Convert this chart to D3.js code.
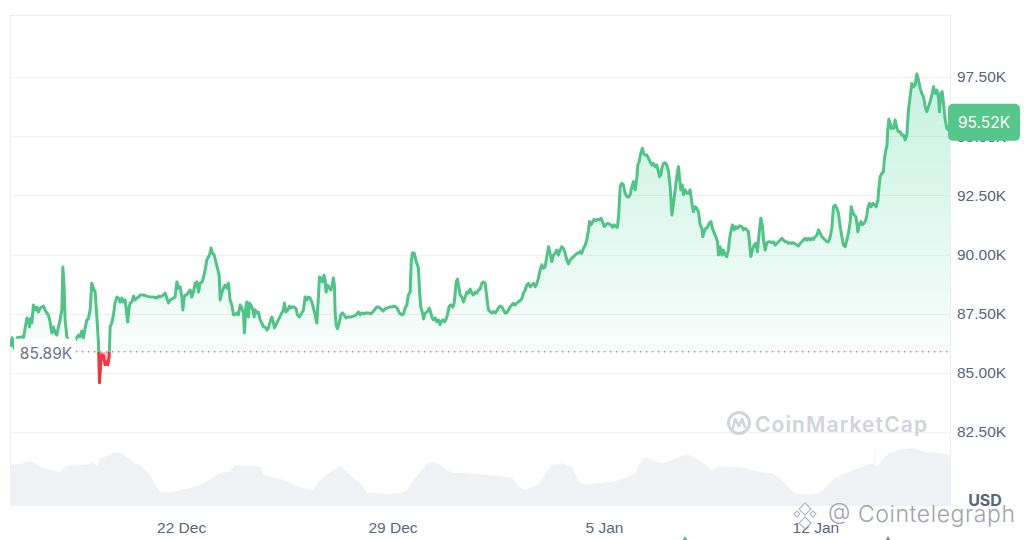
<!DOCTYPE html>
<html lang="en">
<head>
<meta charset="UTF-8">
<title>BTC / USD</title>
<script src="https://d3js.org/d3.v7.min.js"></script>
<style>
  body { margin: 0; background: #fff; }
  svg { display: block; font-family: Inter, "Noto Sans", sans-serif; }
  .axis text { fill: #58667e; font-size: 15.5px; }
</style>
</head>
<body>
<div id="chart"></div>
<script>
var width = 1024, height = 540;
var plot = {left: 10, right: 950, top: 15, bottom: 506};

// hours counted from 16 Dec 2024 00:00 UTC
var startDate = Date.UTC(2024, 11, 16);
var domainHours = [8, 755];
var xTickDates = ["2024-12-22", "2024-12-29", "2025-01-05", "2025-01-12"];
var yTicks = [82.5, 85, 87.5, 90, 92.5, 95, 97.5];
var basePrice = 85.89;
var lastPrice = 95.52;

// [hour, price in K USD]
var prices = [
  [8.5,86.10],[9.7,86.48],[11.3,86.05],[13.7,86.48],[17.4,86.52],[18.7,86.48],[21.4,87.32],[22.6,87.24],[23.4,86.94],[24.6,87.32],
  [25.4,87.11],[26.6,87.87],[28.0,87.66],[29.3,87.78],[30.6,87.57],[32.0,87.74],[33.3,87.78],[34.6,87.82],[35.9,87.66],[37.3,87.53],
  [38.5,87.45],[39.9,87.15],[41.2,86.69],[42.5,86.94],[43.9,86.69],[45.2,86.60],[46.5,86.94],[47.8,87.24],[49.2,87.66],[50.0,89.47],
  [51.0,88.63],[51.8,87.24],[53.2,86.52],[54.4,86.39],[59.0,86.31],[61.1,86.48],[62.4,86.60],[63.7,86.52],[65.1,86.77],[66.4,86.48],
  [67.7,86.90],[69.1,87.24],[70.3,87.28],[71.7,87.66],[73.0,88.79],[74.3,88.58],[75.7,88.41],[77.0,87.36],[78.3,86.26],[79.1,84.58],
  [80.2,85.42],[81.0,85.76],[82.3,85.72],[83.6,85.34],[85.0,85.46],[85.8,85.34],[86.8,85.67],[87.6,86.94],[88.9,87.11],[90.2,87.45],
  [91.6,87.99],[92.9,88.20],[94.2,88.16],[95.5,87.99],[96.9,88.16],[98.1,87.99],[99.5,88.08],[100.8,87.45],[101.6,87.15],[102.7,87.78],
  [103.5,87.95],[104.8,87.99],[106.1,88.24],[107.4,88.08],[108.8,88.16],[110.1,88.20],[111.4,88.29],[114.0,88.29],[116.7,88.24],[119.4,88.20],
  [122.0,88.20],[124.7,88.16],[126.0,88.24],[127.3,88.20],[130.0,88.29],[131.3,88.37],[132.6,88.16],[133.9,87.95],[135.3,88.08],[137.9,88.16],
  [139.2,88.20],[140.6,88.84],[141.9,88.58],[143.2,88.63],[144.6,88.20],[145.4,87.66],[146.4,88.20],[147.2,88.29],[148.5,88.29],[149.8,88.41],
  [151.2,88.50],[152.5,88.20],[153.8,88.41],[155.1,88.79],[156.5,88.84],[157.8,88.41],[159.1,88.79],[160.5,88.84],[161.7,89.01],[163.1,89.35],
  [164.4,89.77],[165.7,89.89],[167.0,90.06],[167.8,90.27],[168.9,90.06],[170.2,89.98],[171.6,89.68],[172.8,89.43],[174.2,89.13],[175.0,88.08],
  [176.3,88.37],[177.6,88.58],[179.0,88.71],[180.3,88.58],[181.6,88.79],[182.9,88.08],[184.3,87.87],[185.6,87.45],[186.9,87.45],[188.3,87.53],
  [189.5,87.45],[190.9,87.87],
  [192.2,87.74],[193.5,87.53],[194.3,86.69],[195.4,87.78],[196.2,87.99],[197.5,87.36],[198.3,87.95],[199.4,87.87],[201.0,87.66],[202.0,87.36],
  [202.8,87.66],[204.2,87.53],[205.4,87.57],[206.8,87.24],[208.1,87.11],[209.4,86.94],[210.8,86.94],[212.1,86.81],[213.4,86.90],[214.7,87.15],
  [216.1,87.36],[217.4,87.11],[218.1,86.90],[219.5,87.03],[220.5,87.15],[222.1,87.32],[224.0,87.53],[225.3,87.66],[226.1,87.95],[227.2,87.57],
  [228.8,87.66],[230.1,87.82],[231.2,87.74],[232.5,87.78],[233.8,87.78],[235.4,87.70],[236.4,87.45],[238.0,87.36],[239.9,87.53],[241.2,87.66],
  [242.5,88.20],[243.9,88.08],[245.2,88.20],[246.5,88.16],[247.9,87.99],[249.1,87.74],[250.5,87.45],[251.8,87.11],[253.1,88.20],[253.9,89.05],
  [255.0,89.01],[256.3,88.84],[257.6,89.13],[258.4,88.92],[259.2,88.41],[260.3,88.71],[261.9,88.58],[263.0,88.50],[264.0,88.71],[265.0,89.01],
  [265.8,88.71],[266.4,87.53],[267.2,87.03],[268.2,86.86],[269.6,87.11],[270.9,87.45],[272.2,87.53],[273.5,87.45],[275.1,87.32],[276.9,87.36],
  [278.9,87.36],[280.9,87.40],[283.1,87.45],[284.9,87.57],[286.3,87.45],[287.6,87.53],[289.4,87.49],[291.0,87.53],[292.8,87.53],[294.8,87.49],
  [296.3,87.57],[298.2,87.70],[299.5,87.78],[300.8,87.78],[302.1,87.74],[304.3,87.61],[306.1,87.70],[307.5,87.74],[309.5,87.78],[311.4,87.78],
  [313.3,87.82],[314.9,87.78],[315.9,87.70],[317.5,87.53],[319.4,87.45],[320.7,87.49],[322.0,87.74],[323.4,87.87],[324.6,88.29],[326.0,88.41],
  [326.8,89.64],[327.8,90.06],[329.2,90.06],[330.5,89.77],[331.8,89.56],[332.6,89.43],[333.4,88.50],[334.5,87.78],[335.8,87.53],[336.6,87.28],
  [337.9,87.53],[339.3,87.57],[340.5,87.66],[341.3,87.74],[342.4,87.53],[343.5,87.32],[344.5,87.24],[345.9,87.32],[347.2,87.15],[348.5,87.24],
  [349.8,87.03],[350.6,87.15],[352.0,87.24],[353.3,87.15],[354.6,87.28],[355.6,87.45],[357.0,87.82],[358.3,87.87],[359.9,87.78],[361.0,87.95],
  [362.6,88.84],[363.6,88.96],[364.7,88.63],[365.7,88.29],[367.1,88.20],[368.4,87.99],[369.7,88.20],[371.0,88.41],[372.3,88.37],[373.7,88.54],
  [375.0,88.37],[376.3,88.29],[377.6,88.41],[379.0,88.37],[380.3,88.50],[381.6,88.54],[383.0,88.79],[384.2,88.84],[385.6,88.79],[386.9,88.20],
  [388.2,87.66],
  [389.6,87.59],[390.9,87.53],[392.2,87.59],[393.5,87.53],[394.9,87.62],[396.2,87.74],[397.5,87.82],[398.9,87.79],[400.1,87.66],[401.5,87.53],
  [402.8,87.54],[404.1,87.66],[405.5,87.79],[406.8,87.87],[408.1,87.94],[409.4,87.87],[410.8,87.94],[412.1,88.01],[413.4,88.05],[414.8,88.15],
  [416.0,88.36],[417.4,88.50],[418.7,88.71],[420.0,88.78],[421.4,88.64],[422.7,88.71],[424.0,88.78],[425.3,88.64],[426.7,88.78],[427.9,88.99],
  [429.3,89.35],[430.6,89.56],[431.9,89.42],[433.3,89.48],[434.6,89.91],[435.9,90.33],[437.2,90.05],[438.6,89.70],[439.9,89.98],[441.2,90.05],
  [442.6,90.19],[443.8,89.98],[445.2,90.19],[446.5,90.33],[447.8,90.26],[449.2,90.05],[450.5,89.77],[451.8,89.60],[453.1,89.77],[454.5,89.84],
  [455.8,89.91],[457.1,89.98],[458.5,90.05],[459.7,90.05],[461.1,90.12],[462.4,90.05],[463.7,90.26],[465.1,90.40],[466.4,90.61],[467.7,91.04],
  [468.5,91.39],[469.6,91.25],[471.2,91.39],[472.2,91.49],[473.8,91.43],[475.2,91.49],[476.4,91.46],[477.8,91.53],[478.8,91.39],[480.2,91.18],
  [481.5,91.25],[482.8,91.32],[484.1,91.29],[485.5,91.25],[486.8,91.15],[488.1,91.25],[489.5,91.18],[490.7,91.15],[491.8,91.74],[492.9,92.87],
  [494.2,93.01],[495.5,92.94],[496.8,92.59],[498.2,92.45],[499.5,92.42],[500.8,92.52],[502.2,92.87],[503.5,93.08],[504.8,92.73],[506.1,93.22],
  [506.9,93.78],[508.0,93.92],[509.3,94.28],[510.6,94.49],[511.4,94.28],[512.7,94.20],[514.1,94.20],[515.4,94.06],[516.7,93.92],[518.1,93.78],
  [519.3,93.85],[520.7,93.71],[522.0,93.78],[523.3,93.50],[524.1,93.29],[525.2,93.36],[526.0,93.64],[527.3,93.85],[528.6,93.88],[530.0,93.78],
  [531.3,93.50],[532.6,92.87],[534.0,91.67],[535.2,92.16],[536.6,92.73],[537.9,93.29],[539.2,93.71],[540.0,93.29],[541.1,92.73],[542.2,92.94],
  [543.2,92.52],[544.5,92.73],[545.9,92.59],[547.2,92.59],[548.5,92.73],[549.9,92.16],[551.1,91.81],[552.5,92.02],[553.8,91.95],[555.1,91.81],
  [556.5,91.25],[557.8,91.11],[558.6,90.75],[559.6,90.96],[561.0,91.11],[562.3,91.15],[563.6,91.32],[565.0,91.39],[566.2,91.11],[567.6,90.90],
  [568.9,90.75],[570.2,90.54],[571.0,89.98],[572.3,90.33],[573.7,89.98],[574.9,90.19],[576.3,89.98],[577.6,89.91],[578.9,90.19],[579.7,90.61],
  [580.8,90.96],[582.1,91.25],[583.5,91.04],[584.8,91.18],[586.1,91.11],[587.7,91.21],
  [589.6,91.18],[590.9,91.04],[592.2,91.11],[593.6,91.04],[594.8,90.96],[595.6,90.54],[596.7,89.91],[598.0,90.19],[599.4,90.40],[600.7,90.47],
  [602.0,90.12],[603.3,90.90],[604.7,91.53],[606.0,91.18],[606.8,90.61],[608.1,90.19],[609.5,90.50],[610.7,90.54],[612.1,90.54],[613.4,90.50],
  [614.7,90.54],[616.0,90.40],[617.4,90.47],[618.7,90.54],[620.0,90.61],[621.4,90.68],[622.7,90.61],[624.0,90.54],[625.3,90.54],[626.6,90.47],
  [628.0,90.50],[629.3,90.47],[630.6,90.50],[632.0,90.44],[633.3,90.40],[634.6,90.36],[635.9,90.47],[637.3,90.54],[638.5,90.61],[639.9,90.68],
  [641.2,90.61],[642.5,90.68],[643.9,90.61],[645.2,90.68],[646.5,90.64],[647.8,90.75],[649.2,90.82],[650.5,91.04],[651.8,90.90],[653.2,90.75],
  [654.5,90.68],[655.8,90.61],[657.1,90.54],[658.4,90.54],[659.8,90.75],[661.1,91.11],[662.4,92.02],[663.7,92.09],[665.1,91.95],[666.4,91.74],
  [667.7,91.18],[669.1,90.75],[670.3,90.40],[671.7,90.33],[673.0,90.61],[674.3,90.90],[675.7,91.39],[676.5,92.02],[677.5,91.81],[678.8,91.67],
  [680.2,91.60],[681.0,91.32],[681.8,90.96],[682.8,91.25],[684.2,91.39],[685.4,91.25],[686.8,91.32],[688.1,91.46],[688.9,91.67],[689.7,91.95],
  [691.0,92.16],[692.4,92.02],[693.7,92.16],[695.0,92.09],[696.3,92.02],[697.7,92.30],[698.5,92.80],[699.5,93.29],[700.8,93.43],[702.1,93.50],
  [702.9,94.06],[704.0,94.42],[704.8,94.55],[705.6,95.26],[706.4,95.71],[707.5,95.54],[708.3,95.33],[709.3,95.40],[710.1,95.33],[711.4,95.68],
  [712.8,95.33],[714.0,95.19],[715.4,95.19],[716.7,95.05],[718.0,95.05],[719.4,94.84],[720.7,95.05],[722.0,96.11],[723.3,96.67],[724.7,97.23],
  [726.0,97.09],[727.3,97.16],[728.6,97.63],[730.0,97.37],[731.3,97.02],[732.6,96.81],[733.9,96.67],[735.3,96.25],[736.6,96.03],[737.9,96.25],
  [739.2,96.46],[740.6,96.74],[741.9,97.09],[743.2,96.81],[744.6,96.95],[745.9,96.60],[746.6,96.03],[747.7,96.81],[748.8,96.88],[749.8,96.39],
  [751.2,95.68],[752.5,95.33],[753.8,95.26],[755.0,95.52]
];

// [hour, 24h volume in B USD]
var volumes = [
  [8.1,62],[16.1,63],[24.0,68],[29.3,62],[34.6,57],[42.5,54],[47.8,50],[50.5,57],[55.8,62],[63.7,62],
  [71.7,63],[74.3,66],[77.0,60],[79.6,72],[85.0,75],[91.6,81],[95.5,80],[100.8,74],[106.1,64],[111.4,62],
  [116.7,51],[120.7,42],[123.3,32],[127.3,21],[132.6,20],[137.9,21],[143.2,24],[151.2,27],[159.1,32],[167.0,40],
  [175.0,50],[182.9,51],[186.9,62],[193.5,60],[201.5,60],[206.8,59],[209.4,47],[217.4,43],[225.3,39],[233.3,32],
  [241.2,27],[249.1,24],[253.1,36],[259.8,47],[265.0,54],[270.4,60],[275.7,51],[280.9,42],[286.3,34],[288.9,29],
  [291.6,20],[299.5,19],[307.5,18],[318.0,19],[323.4,24],[328.6,39],[333.9,51],[339.3,64],[344.5,66],[349.8,62],
  [355.1,54],[360.4,49],[365.7,50],[376.3,48],[386.9,47],[397.5,45],[407.0,42],[412.4,29],[417.6,24],[423.0,29],
  [428.3,32],[433.5,49],[438.8,62],[446.8,64],[454.7,59],[460.1,36],[465.3,32],[476.0,34],[486.5,36],[497.1,42],
  [505.0,49],[507.7,62],[513.0,74],[518.3,68],[526.3,64],[534.2,69],[542.2,75],[547.5,77],[555.4,69],[566.0,54],
  [571.3,59],[581.9,59],[592.5,57],[603.1,51],[613.7,49],[621.6,39],[627.0,27],[632.2,19],[640.1,17],[650.8,19],
  [656.0,27],[661.4,39],[671.9,49],[682.6,57],[693.1,64],[694.8,62],[695.3,95],[695.8,62],[697.1,59],[701.1,69],
  [706.4,79],[714.4,84],[724.9,87],[735.5,81],[746.1,80],[754.1,77],[755.0,77]
];

function toDate(h) { return new Date(startDate + h * 3600e3); }

var x = d3.scaleUtc()
    .domain(domainHours.map(toDate))
    .range([plot.left, plot.right]);
var y = d3.scaleLinear()
    .domain([82.5, 97.5])
    .range([432, 77]);
var yVol = d3.scaleLinear()
    .domain([0, 90])
    .range([plot.bottom, 446]);

var green = "#50c386", red = "#ea3943", grey = "#58667e";

var svg = d3.select("#chart")
    .append("svg")
    .attr("width", width)
    .attr("height", height);

var defs = svg.append("defs");
var grad = defs.append("linearGradient")
    .attr("id", "upFill")
    .attr("gradientUnits", "userSpaceOnUse")
    .attr("x1", 0).attr("x2", 0)
    .attr("y1", y(97.6)).attr("y2", y(basePrice));
grad.append("stop").attr("offset", 0).attr("stop-color", "#16c784").attr("stop-opacity", 0.24);
grad.append("stop").attr("offset", 1).attr("stop-color", "#16c784").attr("stop-opacity", 0.03);

defs.append("clipPath").attr("id", "above")
    .append("rect")
    .attr("x", plot.left).attr("y", plot.top)
    .attr("width", plot.right - plot.left)
    .attr("height", y(basePrice) - plot.top);
defs.append("clipPath").attr("id", "below")
    .append("rect")
    .attr("x", plot.left).attr("y", y(basePrice))
    .attr("width", plot.right - plot.left)
    .attr("height", plot.bottom - y(basePrice));

// frame
var frame = svg.append("g").attr("stroke", "#eceff2").attr("fill", "none");
frame.append("line").attr("x1", plot.left).attr("x2", plot.right).attr("y1", plot.top + 0.5).attr("y2", plot.top + 0.5);
frame.append("line").attr("x1", plot.left + 0.5).attr("x2", plot.left + 0.5).attr("y1", plot.top).attr("y2", plot.bottom);
frame.append("line").attr("x1", plot.right + 0.5).attr("x2", plot.right + 0.5).attr("y1", plot.top).attr("y2", plot.bottom);

// grid
svg.append("g")
    .selectAll("line")
    .data(yTicks)
    .enter()
    .append("line")
    .attr("x1", plot.left)
    .attr("x2", plot.right)
    .attr("y1", function (d) { return Math.round(y(d)) + 0.5; })
    .attr("y2", function (d) { return Math.round(y(d)) + 0.5; })
    .attr("stroke", "#eff1f4");

// volume
svg.append("path")
    .datum(volumes)
    .attr("fill", "#eff1f5")
    .attr("d", d3.area()
        .x(function (d) { return x(toDate(d[0])); })
        .y0(plot.bottom)
        .y1(function (d) { return yVol(d[1]); }));

// CoinMarketCap watermark
var wm = svg.append("g").attr("opacity", 0.85);
wm.append("circle").attr("cx", 739).attr("cy", 423).attr("r", 10.5)
    .attr("fill", "none").attr("stroke", "#c9cdd4").attr("stroke-width", 3);
wm.append("path").attr("d", "M733,428 L735,419 L739,426 L742,419 L745,427")
    .attr("fill", "none").attr("stroke", "#c9cdd4").attr("stroke-width", 2.6)
    .attr("stroke-linejoin", "round").attr("stroke-linecap", "round");
wm.append("text").attr("x", 755).attr("y", 432)
    .attr("font-size", 21).attr("font-weight", 600)
    .attr("fill", "#c9cdd4")
    .attr("textLength", 172)
    .text("CoinMarketCap");

// price area + line
var line = d3.line()
    .x(function (d) { return x(toDate(d[0])); })
    .y(function (d) { return y(d[1]); });
var area = d3.area()
    .x(function (d) { return x(toDate(d[0])); })
    .y0(y(basePrice))
    .y1(function (d) { return y(d[1]); });

svg.append("path").datum(prices)
    .attr("clip-path", "url(#above)")
    .attr("fill", "url(#upFill)")
    .attr("d", area);
svg.append("path").datum(prices)
    .attr("clip-path", "url(#below)")
    .attr("fill", red).attr("fill-opacity", 0.35)
    .attr("d", area);

// reference line
svg.append("line")
    .attr("x1", 76).attr("x2", plot.right)
    .attr("y1", y(basePrice)).attr("y2", y(basePrice))
    .attr("stroke", "#8f98a8")
    .attr("stroke-width", 1.3)
    .attr("stroke-dasharray", "1.3,4.7");

svg.append("path").datum(prices)
    .attr("clip-path", "url(#above)")
    .attr("fill", "none").attr("stroke", green)
    .attr("stroke-width", 3).attr("stroke-linejoin", "round")
    .attr("d", line);
svg.append("path").datum(prices)
    .attr("clip-path", "url(#below)")
    .attr("fill", "none").attr("stroke", red)
    .attr("stroke-width", 3).attr("stroke-linejoin", "round")
    .attr("d", line);

// base price label
svg.append("rect")
    .attr("x", 14).attr("y", y(basePrice) - 13)
    .attr("width", 62).attr("height", 25)
    .attr("fill", "#fff");
svg.append("text")
    .attr("x", 46).attr("y", y(basePrice) + 2)
    .attr("dy", "0.35em")
    .attr("text-anchor", "middle")
    .attr("font-size", 15.5)
    .attr("fill", "#6b778c")
    .text(basePrice.toFixed(2) + "K");

// axes
var yAxis = svg.append("g")
    .attr("class", "axis")
    .attr("transform", "translate(" + plot.right + ",0)")
    .call(d3.axisRight(y)
        .tickValues(yTicks)
        .tickSize(0)
        .tickPadding(7)
        .tickFormat(function (d) { return d.toFixed(2) + "K"; }));
yAxis.select(".domain").remove();
yAxis.selectAll("text").attr("font-family", null).attr("font-size", null);

var xAxis = svg.append("g")
    .attr("class", "axis")
    .attr("transform", "translate(0," + plot.bottom + ")")
    .call(d3.axisBottom(x)
        .tickValues(xTickDates.map(function (s) { return new Date(s + "T00:00:00Z"); }))
        .tickSize(0)
        .tickPadding(16)
        .tickFormat(d3.utcFormat("%-d %b")));
xAxis.select(".domain").remove();
xAxis.selectAll("text").attr("font-family", null).attr("font-size", null);

// last price tag
svg.append("rect")
    .attr("x", 948).attr("y", y(lastPrice) - 20)
    .attr("width", 72).attr("height", 37)
    .attr("rx", 5)
    .attr("fill", "#57c68a");
svg.append("text")
    .attr("x", 984).attr("y", y(lastPrice) - 1.5)
    .attr("dy", "0.35em")
    .attr("text-anchor", "middle")
    .attr("font-size", 15.5)
    .attr("fill", "#fff")
    .text(lastPrice.toFixed(2) + "K");

svg.append("text")
    .attr("x", 985).attr("y", 506)
    .attr("text-anchor", "middle")
    .attr("font-size", 16).attr("font-weight", 700)
    .attr("fill", grey)
    .text("USD");

// small markers under the axis
svg.append("path")
    .attr("transform", "translate(685,540)")
    .attr("d", d3.symbol().type(d3.symbolTriangle).size(22))
    .attr("fill", green);
svg.append("path")
    .attr("transform", "translate(888,540)")
    .attr("d", d3.symbol().type(d3.symbolTriangle).size(22))
    .attr("fill", "#8a93a3");

// Cointelegraph watermark
var ct = svg.append("g").attr("fill", "#fff").attr("stroke", "#b3b8bf").attr("stroke-width", 1.2);
ct.append("path").attr("d", "M805,503 L811,509 L805,515 L799,509 Z");
ct.append("path").attr("d", "M797,511 L800,514 L797,517 L794,514 Z");
ct.append("path").attr("d", "M813,511 L816,514 L813,517 L810,514 Z");
ct.append("path").attr("d", "M805,517 L811,523 L805,529 L799,523 Z");
svg.append("text")
    .attr("x", 828).attr("y", 522)
    .attr("font-size", 23).attr("font-weight", 300)
    .attr("fill", "#9ea4ac")
    .attr("textLength", 187)
    .text("@ Cointelegraph");
</script>
</body>
</html>
